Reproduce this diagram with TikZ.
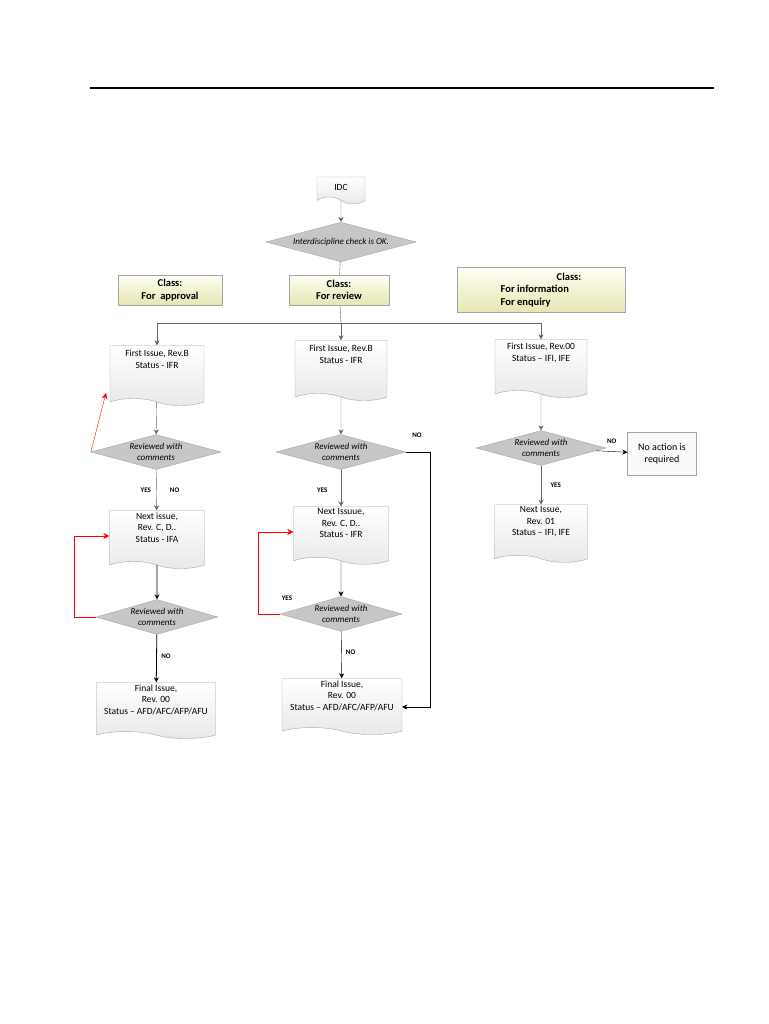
\documentclass[tikz,border=0pt]{standalone}
\usepackage{fontspec}
\setmainfont{Carlito}
\usetikzlibrary{shapes.geometric,shapes.symbols,arrows.meta}
\tikzset{
  doc/.style={tape, tape bend top=none, tape bend bottom=out and in, tape bend height=7pt,
    draw=gray!70, top color=white, bottom color=gray!18, align=center,
    font=\fontsize{9.5}{11.5}\selectfont, inner sep=2pt},
  decision/.style={diamond, aspect=3, draw=gray!70, fill=gray!45, align=center, inner sep=0pt,
    font=\itshape\fontsize{9}{11}\selectfont},
  classbox/.style={rectangle, draw=gray!70, top color=green!6!yellow!4, bottom color=olive!20,
    font=\bfseries\fontsize{10.5}{12.5}\selectfont},
  flow/.style={draw=gray!80!black, -{Stealth[length=5pt,width=5pt]}},
  loop/.style={draw=red, thick, -{Stealth[length=6pt,width=6pt]}},
  tag/.style={font=\bfseries\fontsize{7}{8}\selectfont},
}
\begin{document}
\begin{tikzpicture}[x=1pt,y=-1pt]
    \useasboundingbox (0,0) rectangle (768,1024);
    \draw[line width=1.5pt] (90,88) -- (714,88);

    % top
    \node[doc, minimum width=48pt, minimum height=27pt] (idc) at (341,187) {IDC};
    \node[decision, minimum width=150pt] (check) at (341,242) {Interdiscipline check is OK.};
    \node[classbox, minimum width=104pt, minimum height=30pt, align=center] (approval) at (170,290) {Class:\\For\ \ approval};
    \node[classbox, minimum width=100pt, minimum height=30pt, align=center] (review) at (339,290) {Class:\\For review};
    \node[classbox, minimum width=168pt, minimum height=45pt, align=left] (info) at (541,290) {\hspace*{56pt}Class:\\For information\\For enquiry};
    \draw[flow] (idc) -- (check);
    \draw[gray!80!black] (check) -- (review);
    \coordinate (bus) at (341,323);
    \draw[gray!80!black] (review) -- (bus);

    % first issues
    \node[doc, minimum width=94pt, minimum height=60pt] (firstA) at (157,372) {First Issue, Rev.B\\Status - IFR\\[14pt]};
    \node[doc, minimum width=92pt, minimum height=60pt] (firstR) at (341,367) {First Issue, Rev.B\\Status - IFR\\[14pt]};
    \node[doc, minimum width=92pt, minimum height=58pt] (firstI) at (541,365) {First Issue, Rev.00\\Status -- IFI, IFE\\[14pt]};
    \draw[flow] (bus) -| (firstA);
    \draw[flow] (bus) -- (firstR);
    \draw[flow] (bus) -| (firstI);

    % first reviews
    \node[decision, minimum width=130pt] (revA) at (156,452) {Reviewed with\\comments};
    \node[decision, minimum width=130pt] (revR) at (341,452) {Reviewed with\\comments};
    \node[decision, minimum width=130pt] (revI) at (541,448) {Reviewed with\\comments};
    \draw[flow] (firstA) -- (revA);
    \draw[flow] (firstR) -- (revR);
    \draw[flow] (firstI) -- (revI);
    \coordinate (firstAtip) at (106,393);
    \draw[loop, thin] (revA.west) -- (firstAtip);

    \node[draw=gray!70, fill=gray!4, minimum width=69pt, minimum height=43pt, align=center,
      font=\fontsize{10}{12}\selectfont] (noaction) at (662,454) {No action is\\required};
    \draw[flow, black] (revI) -- (noaction) node[tag, pos=0.5, above=4pt] {NO};

    % next issues
    \node[doc, minimum width=95pt, minimum height=55pt] (nextA) at (157,536) {Next issue,\\Rev. C, D..\\Status - IFA\\[6pt]};
    \node[doc, minimum width=95pt, minimum height=55pt] (nextR) at (341,532) {Next Issuue,\\Rev. C, D..\\Status - IFR\\[6pt]};
    \node[doc, minimum width=93pt, minimum height=52pt] (nextI) at (541,530) {Next Issue,\\Rev. 01\\Status -- IFI, IFE\\[6pt]};
    \draw[flow] (revA) -- (nextA) node[tag, pos=0.5, left=2pt] {YES} node[tag, pos=0.5, right=10pt] {NO};
    \draw[flow] (revR) -- (nextR) node[tag, pos=0.55, left=10pt] {YES};
    \draw[flow] (revI) -- (nextI) node[tag, pos=0.5, right=6pt] {YES};

    % second reviews
    \node[decision, minimum width=122pt] (rev2A) at (157,617) {Reviewed with\\comments};
    \node[decision, minimum width=122pt] (rev2R) at (341,614) {Reviewed with\\comments};
    \draw[flow, black, thick] (nextA) -- (rev2A);
    \draw[flow, black] (nextR) -- (rev2R);
    \draw[loop, thin] (rev2A.west) -- ++(-22,0) |- (nextA.west);
    \draw[loop, thin] (rev2R.west) -- ++(-22,0) |- (nextR.west);
    \node[tag] at (287,598) {YES};

    % final issues
    \node[doc, minimum width=119pt, minimum height=52pt] (finalA) at (156,707) {Final Issue,\\Rev. 00\\Status -- AFD/AFC/AFP/AFU\\[4pt]};
    \node[doc, minimum width=120pt, minimum height=52pt] (finalR) at (342,703) {Final Issue,\\Rev. 00\\Status -- AFD/AFC/AFP/AFU\\[4pt]};
    \draw[flow, black, thick] (rev2A) -- (finalA) node[tag, pos=0.45, right=1pt] {NO};
    \draw[flow, black] (rev2R) -- (finalR) node[tag, pos=0.45, right=1pt] {NO};
    \coordinate (bend) at (430,707);
    \draw[flow, black] (revR.east) -| (bend) -- (finalR.east |- bend);
    \node[tag] at (417,435) {NO};
\end{tikzpicture}
\end{document}
